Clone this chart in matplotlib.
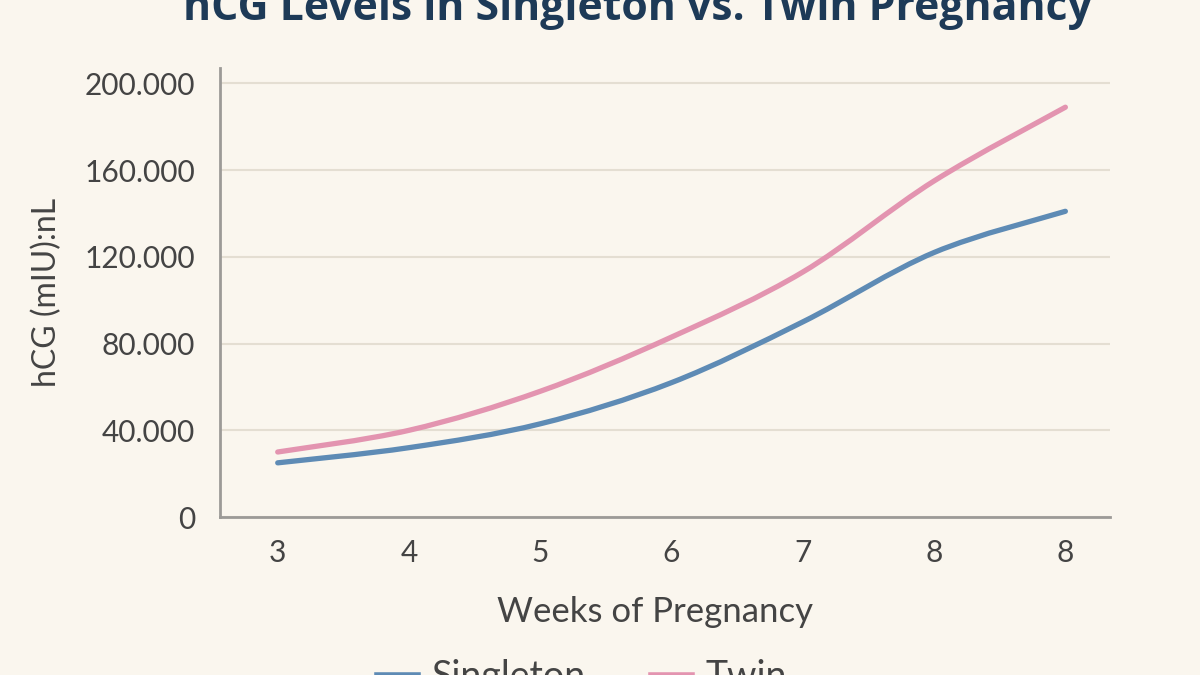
import numpy as np
import matplotlib
matplotlib.use("Agg")
import matplotlib.pyplot as plt
from matplotlib.path import Path
from matplotlib.patches import PathPatch
from matplotlib.lines import Line2D
from matplotlib.ticker import FuncFormatter

# data
week_labels = ["3", "4", "5", "6", "7", "8", "8"]
singleton = [25000, 32000, 43000, 62000, 90000, 122000, 141000]
twin = [30000, 40000, 58000, 83000, 113000, 155000, 189000]

BG = "#faf6ee"
BLUE = "#5e8bb5"
PINK = "#e394b0"
TEXT = "#444444"

plt.rcParams["font.family"] = ["Lato", "DejaVu Sans"]


def smooth_path(xs, ys):
    # catmull-rom through the points, drawn as cubic bezier segments
    pts = np.column_stack([xs, ys]).astype(float)
    n = len(pts)
    verts = [pts[0]]
    codes = [Path.MOVETO]
    for i in range(n - 1):
        p0 = pts[max(i - 1, 0)]
        p1 = pts[i]
        p2 = pts[i + 1]
        p3 = pts[min(i + 2, n - 1)]
        c1 = p1 + (p2 - p0) / 6.0
        c2 = p2 - (p3 - p1) / 6.0
        verts += [c1, c2, p2]
        codes += [Path.CURVE4] * 3
    return Path(verts, codes)


fig = plt.figure(figsize=(12, 6.75), dpi=100, facecolor=BG)
ax = fig.add_axes([0.1833, 0.234, 0.7417, 0.665])
ax.set_facecolor(BG)

x = np.arange(len(week_labels))
for vals, col in [(singleton, BLUE), (twin, PINK)]:
    patch = PathPatch(smooth_path(x, vals), facecolor="none", edgecolor=col,
                      lw=3.8, capstyle="round", joinstyle="round", zorder=3)
    ax.add_patch(patch)

ax.set_xlim(-0.44, 6.34)
ax.set_ylim(0, 207000)
ax.set_xticks(x)
ax.set_xticklabels(week_labels)
ax.set_yticks([0, 40000, 80000, 120000, 160000, 200000])
ax.yaxis.set_major_formatter(FuncFormatter(lambda v, p: f"{v:,.0f}".replace(",", ".")))
ax.tick_params(length=0, labelsize=21.5, labelcolor=TEXT)
ax.tick_params(axis="y", pad=18)
ax.tick_params(axis="x", pad=16)

ax.grid(axis="y", color="#e4ded2", lw=1.5)
ax.set_axisbelow(True)
for s in ["top", "right"]:
    ax.spines[s].set_visible(False)
for s in ["left", "bottom"]:
    ax.spines[s].set_color("#9c9a97")
    ax.spines[s].set_linewidth(2)

ax.set_xlabel("Weeks of Pregnancy", fontsize=25, color=TEXT, labelpad=20)
ax.xaxis.set_label_coords(0.489, -0.175)
ax.set_ylabel("hCG (mIU):nL", fontsize=23, color=TEXT, labelpad=16)

fig.text(0.531, 0.970, "hCG Levels in Singleton vs. Twin Pregnancy",
         ha="center", va="baseline", fontsize=30.8, fontweight="bold",
         color="#1d3a57", family=["Open Sans", "DejaVu Sans"])

handles = [Line2D([], [], color=BLUE, lw=4), Line2D([], [], color=PINK, lw=4)]
fig.legend(handles, ["Singleton", "Twin"], loc="upper center",
           bbox_to_anchor=(0.485, 0.023), ncol=2, frameon=False,
           fontsize=27, handlelength=1.1, handletextpad=0.35,
           columnspacing=1.75, labelcolor=TEXT, borderaxespad=0, borderpad=0)

fig.savefig("out.png", dpi=100, facecolor=BG)
